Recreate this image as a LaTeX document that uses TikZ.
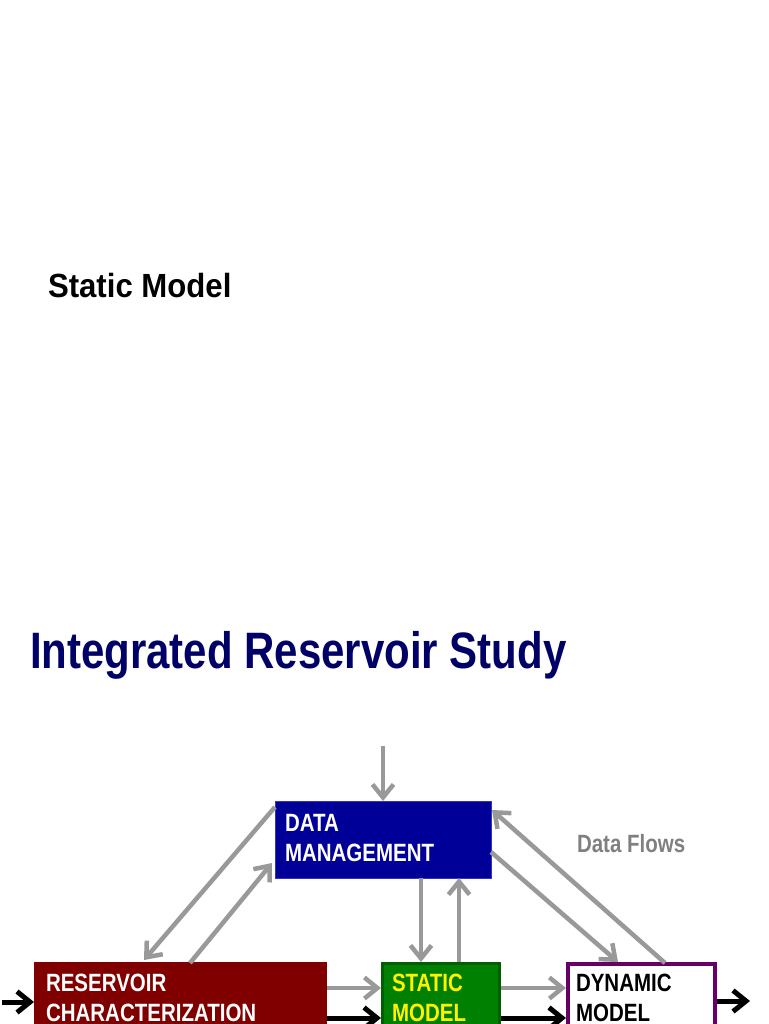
\documentclass[tikz,border=0pt]{standalone}
\usepackage{fontspec}
\setmainfont{Liberation Sans}[FakeStretch=0.82]
\newfontfamily\plainface{Liberation Sans}[FakeStretch=0.93]
\usetikzlibrary{arrows.meta}
\definecolor{titleblue}{RGB}{0,0,102}
\definecolor{dmblue}{RGB}{0,0,153}
\definecolor{dmedge}{RGB}{51,51,204}
\definecolor{rcred}{RGB}{128,0,0}
\definecolor{smgreen}{RGB}{0,128,0}
\definecolor{smedge}{RGB}{0,96,0}
\definecolor{dynpurple}{RGB}{102,0,102}
\definecolor{flowgray}{RGB}{153,153,153}
\begin{document}
\begin{tikzpicture}[x=1pt,y=-1pt]
\tikzstyle{every node}+=[inner sep=0pt, outer sep=0pt]
\tikzstyle{block}=[rectangle, anchor=north west]
\tikzstyle{blocktext}=[anchor=north west, align=left, font=\fontsize{25}{30}\selectfont\bfseries]
\tikzstyle{flow}=[draw=flowgray, line width=4.5pt, -{Straight Barb[length=13pt,width=21pt]}]
\tikzstyle{feed}=[draw=black, line width=5pt, -{Straight Barb[length=13pt,width=21pt]}]
\useasboundingbox (0,0) rectangle (768,1024);
\clip (0,0) rectangle (768,1024);
\fill[white] (0,0) rectangle (768,1024);
\node[anchor=base west, text=black, font=\fontsize{33.5}{40}\plainface\bfseries] (stitle) at (48,297) {Static Model};
\node[anchor=base west, text=titleblue, font=\fontsize{51.2}{60}\selectfont\bfseries] (ititle) at (30,668) {Integrated Reservoir Study};
\node[anchor=base west, text=gray, font=\fontsize{25}{30}\selectfont\bfseries] (flows) at (577,852) {Data Flows};
\node[block, fill=dmblue, draw=dmedge, line width=1pt, minimum width=216, minimum height=77] (dm) at (275,801) {};
\node[block, fill=rcred, minimum width=293, minimum height=120] (rc) at (34,962) {};
\node[block, fill=smgreen, draw=smedge, line width=3pt, minimum width=117, minimum height=120] (sm) at (382.5,963.5) {};
\node[block, fill=white, draw=dynpurple, line width=4pt, minimum width=147, minimum height=120] (dyn) at (568,964) {};
\node[blocktext, text=white] (dmtext) at (285,814) {DATA\\MANAGEMENT};
\node[blocktext, text=white] (rctext) at (46,974) {RESERVOIR\\CHARACTERIZATION};
\node[blocktext, text=yellow] (smtext) at (392,974) {STATIC\\MODEL};
\node[blocktext, text=black] (dyntext) at (576,974) {DYNAMIC\\MODEL};
\coordinate (dmin) at (383,746);
\coordinate (rcin) at (2,1002);
\coordinate (dynout) at (750,1001);
\draw[flow] (dmin) -- (dm.north);
\draw[flow] ([yshift=-6]dm.north west) -- ([xshift=110,yshift=2]rc.north west);
\draw[flow] ([xshift=156,yshift=-1]rc.north west) -- ([xshift=-3,yshift=15]dm.south west);
\draw[flow] ([xshift=38]dm.south) -- ([xshift=38.5,yshift=1.5]sm.north west);
\draw[flow] ([xshift=76.5,yshift=1.5]sm.north west) -- ([xshift=76]dm.south);
\draw[flow] ([yshift=26]dm.south east) -- ([xshift=50,yshift=2]dyn.north west);
\draw[flow] ([xshift=97,yshift=1]dyn.north west) -- ([xshift=1,yshift=-9]dm.north east);
\draw[flow] ([yshift=-26]rc.north east) -- ([xshift=-1.5,yshift=-24.5]sm.north west);
\draw[flow] ([xshift=1.5,yshift=-24.5]sm.north east) -- ([xshift=-2,yshift=-24]dyn.north west);
\draw[feed] (rcin) -- ([yshift=-40]rc.north west);
\draw[feed] ([yshift=-56]rc.north east) -- ([xshift=-1.5,yshift=-54.5]sm.north west);
\draw[feed] ([xshift=1.5,yshift=-54.5]sm.north east) -- ([xshift=-2,yshift=-54]dyn.north west);
\draw[feed] ([xshift=2,yshift=-37]dyn.north east) -- (dynout);
\end{tikzpicture}
\end{document}
